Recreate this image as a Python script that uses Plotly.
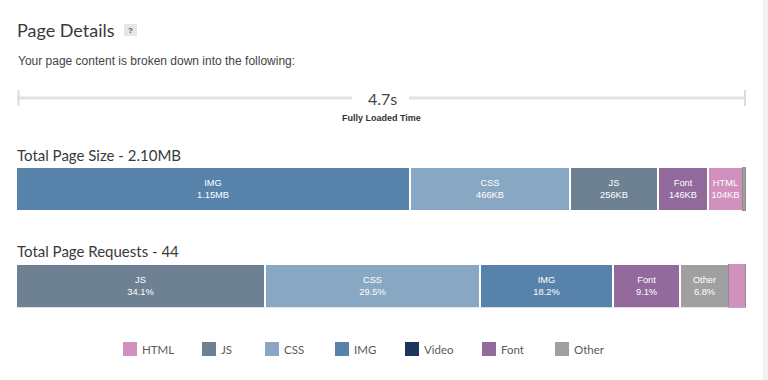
import plotly.graph_objects as go

# ---- data ----
size_categories = ["IMG", "CSS", "JS", "Font", "HTML", "Other"]
size_values_kb = [1150, 466, 256, 146, 104, 8]
size_labels = ["1.15MB", "466KB", "256KB", "146KB", "104KB", ""]

req_categories = ["JS", "CSS", "IMG", "Font", "Other", "HTML"]
req_pct = [34.1, 29.5, 18.2, 9.1, 6.8, 2.3]
req_labels = ["34.1%", "29.5%", "18.2%", "9.1%", "6.8%", ""]

legend_categories = ["HTML", "JS", "CSS", "IMG", "Video", "Font", "Other"]
category_colors = {
    "HTML": "#d190bd",
    "JS": "#6e8193",
    "CSS": "#88a7c2",
    "IMG": "#5783ab",
    "Video": "#1b355e",
    "Font": "#926a9c",
    "Other": "#a0a0a0",
}

title_text = "Page Details"
subtitle_text = "Your page content is broken down into the following:"
load_time_text = "4.7s"
load_time_label = "Fully Loaded Time"
size_title = "Total Page Size - 2.10MB"
req_title = "Total Page Requests - 44"

# ---- layout helpers (pixel -> paper) ----
W, H = 768, 380
def px(x):
    return x / W
def py(y):
    return 1 - y / H

HEAD_FONT = "Lato, 'Open Sans', sans-serif"
BODY_FONT = "'Liberation Sans', Arial, sans-serif"

fig = go.Figure()

def add_bar(categories, values, labels, axis_suffix):
    for cat, val, lab in zip(categories, values, labels):
        thin = (lab == "") and val < 20
        fig.add_trace(go.Bar(
            x=[val], y=["a"], orientation="h",
            marker=dict(color=category_colors[cat],
                        line=dict(color="#8c8c8c" if thin else "white",
                                  width=1 if thin else 2)),
            text=[f"{cat}<br>{lab}" if lab else ""],
            textposition="inside", insidetextanchor="middle",
            textangle=0,
            textfont=dict(color="white", size=9.3, family=BODY_FONT),
            hoverinfo="skip", showlegend=False,
            xaxis="x" + axis_suffix, yaxis="y" + axis_suffix,
        ))

add_bar(size_categories, size_values_kb, size_labels, "")
add_bar(req_categories, req_pct, req_labels, "2")

x_dom = [px(16), px(746)]
fig.update_layout(
    width=W, height=H,
    margin=dict(l=0, r=0, t=0, b=0),
    paper_bgcolor="white", plot_bgcolor="white",
    barmode="stack", bargap=0,
    showlegend=False,
    xaxis=dict(domain=x_dom, range=[0, sum(size_values_kb)], visible=False, fixedrange=True),
    yaxis=dict(domain=[py(211), py(167)], visible=False, fixedrange=True),
    xaxis2=dict(domain=x_dom, range=[0, sum(req_pct)], visible=False, fixedrange=True, anchor="y2"),
    yaxis2=dict(domain=[py(307.5), py(264)], visible=False, fixedrange=True, anchor="x2"),
)

shapes = []
annotations = []

def text(x, y, s, size, family, color, xanchor="left", bold=False):
    annotations.append(dict(
        x=px(x), y=py(y), xref="paper", yref="paper", text=f"<b>{s}</b>" if bold else s,
        showarrow=False, xanchor=xanchor, yanchor="middle",
        font=dict(size=size, family=family, color=color),
    ))

# Header
text(15, 30.5, title_text, 18, HEAD_FONT, "#3a3a3a")
shapes.append(dict(type="rect", xref="paper", yref="paper", x0=px(124), x1=px(137),
                   y0=py(36), y1=py(24), fillcolor="#e6e6e6", line=dict(width=0)))
text(130.5, 30.5, "?", 8, BODY_FONT, "#555", xanchor="center", bold=True)
text(16, 60.5, subtitle_text, 12, BODY_FONT, "#444")

# Fully loaded timeline
line_style = dict(color="#e2e2e2", width=3)
shapes.append(dict(type="line", xref="paper", yref="paper", x0=px(17), x1=px(352),
                   y0=py(98), y1=py(98), line=line_style))
shapes.append(dict(type="line", xref="paper", yref="paper", x0=px(409), x1=px(746),
                   y0=py(98), y1=py(98), line=line_style))
for tx in (18.5, 745):
    shapes.append(dict(type="line", xref="paper", yref="paper", x0=px(tx), x1=px(tx),
                       y0=py(90), y1=py(106), line=dict(color="#dcdcdc", width=2)))
text(382.5, 98.5, load_time_text, 16, HEAD_FONT, "#444", xanchor="center")
text(381, 117.5, load_time_label, 9, BODY_FONT, "#333", xanchor="center", bold=True)

# Section titles
text(15, 155, size_title, 15, HEAD_FONT, "#3a3a3a")
text(15, 251, req_title, 15, HEAD_FONT, "#3a3a3a")

# Legend
legend_x = [123, 202, 265, 335, 405, 482, 555]
for lx, cat in zip(legend_x, legend_categories):
    shapes.append(dict(type="rect", xref="paper", yref="paper", x0=px(lx), x1=px(lx + 14),
                       y0=py(356), y1=py(342), fillcolor=category_colors[cat], line=dict(width=0)))
    text(lx + 17, 349.5, cat, 11.5, HEAD_FONT, "#5a5a5a")

# Scrollbar strip on the right edge
shapes.append(dict(type="rect", xref="paper", yref="paper", x0=px(763), x1=1,
                   y0=0, y1=1, fillcolor="#f2f2f2", line=dict(width=0), layer="below"))

fig.update_layout(shapes=shapes, annotations=annotations)
fig.write_html(
    "out.html",
    config={"displayModeBar": False},
    post_script="document.body.style.margin='0';document.body.style.overflow='hidden';",
)
